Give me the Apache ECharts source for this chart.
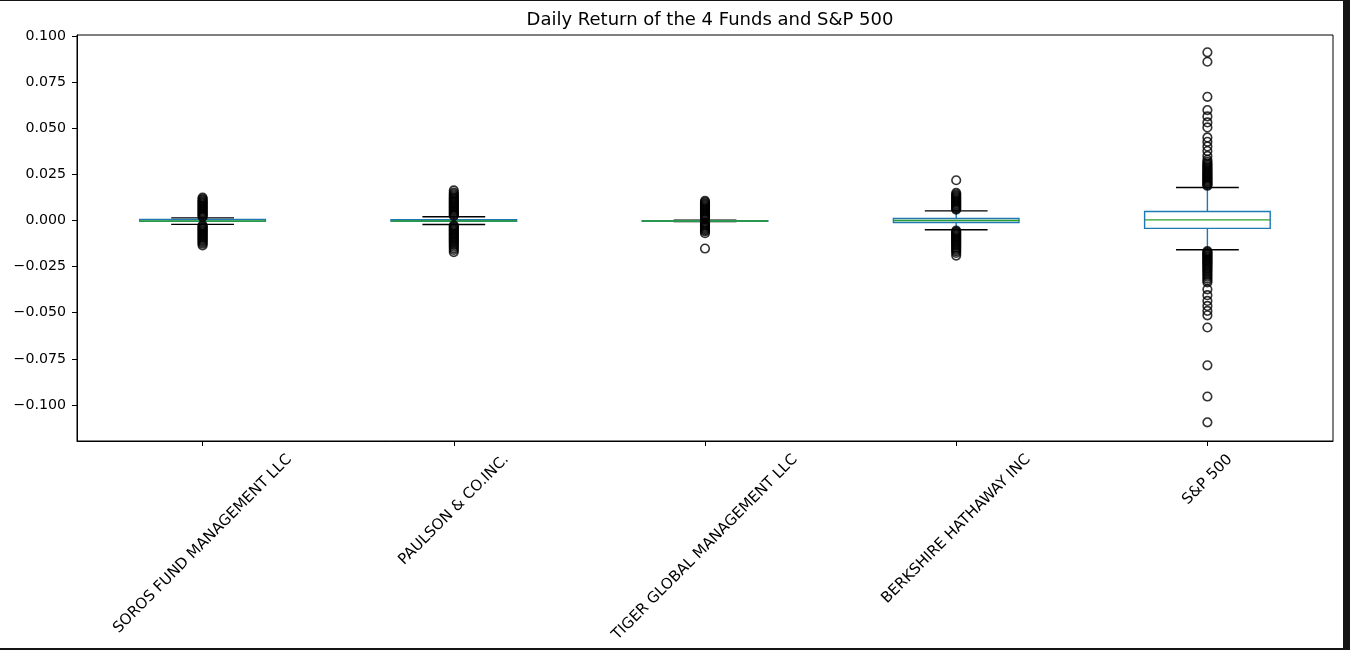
<!DOCTYPE html>
<html>
<head>
<meta charset="utf-8">
<script src="https://cdn.jsdelivr.net/npm/echarts@6/dist/echarts.min.js"></script>
<style>
  html, body { margin: 0; padding: 0; background: #141414; }
  #frame { position: relative; width: 1350px; height: 650px; background: #141414; overflow: hidden; }
  #chart { position: absolute; left: 0; top: 1px; width: 1343px; height: 647px; background: #ffffff; }
</style>
</head>
<body>
<div id="frame"><div id="chart"></div></div>
<script>
const title = 'Daily Return of the 4 Funds and S&P 500';
const categories = ['SOROS FUND MANAGEMENT LLC', 'PAULSON & CO.INC.', 'TIGER GLOBAL MANAGEMENT LLC', 'BERKSHIRE HATHAWAY INC', 'S&P 500'];
const yTicks = [-0.1, -0.075, -0.05, -0.025, 0, 0.025, 0.05, 0.075, 0.1];

const whiskerLow  = [-0.0021, -0.0022, -0.0006, -0.0050, -0.0159];
const q1          = [-0.0004, -0.0004, -0.0004, -0.0011, -0.0043];
const median      = [-0.0003, -0.0003, -0.0003,  0.0000,  0.0003];
const q3          = [ 0.0006,  0.0004, -0.0001,  0.0011,  0.0049];
const whiskerHigh = [ 0.0014,  0.0020,  0.0001,  0.0052,  0.0179];

const sorosFliers = [0.0019, 0.0025, 0.0031, 0.0036, 0.0042, 0.0047, 0.0053, 0.0059, 0.0064, 0.0070, 0.0076, 0.0081, 0.0087, 0.0093, 0.0098, 0.0104, 0.0110, 0.0117, 0.0124,
  -0.0026, -0.0031, -0.0037, -0.0042, -0.0048, -0.0054, -0.0059, -0.0065, -0.0071, -0.0076, -0.0082, -0.0088, -0.0094, -0.0100, -0.0106, -0.0112, -0.0119, -0.0126, -0.0135];
const paulsonFliers = [0.0025, 0.0031, 0.0037, 0.0042, 0.0048, 0.0054, 0.0059, 0.0065, 0.0071, 0.0076, 0.0082, 0.0088, 0.0094, 0.0099, 0.0105, 0.0111, 0.0117, 0.0123, 0.0129, 0.0136, 0.0143, 0.0151, 0.0163,
  -0.0027, -0.0033, -0.0038, -0.0044, -0.0050, -0.0055, -0.0061, -0.0067, -0.0073, -0.0078, -0.0084, -0.0090, -0.0096, -0.0102, -0.0108, -0.0114, -0.0120, -0.0127, -0.0134, -0.0142, -0.0151, -0.0160, -0.0171];
const tigerFliers = [0.0006, 0.0012, 0.0017, 0.0023, 0.0029, 0.0034, 0.0040, 0.0046, 0.0051, 0.0057, 0.0063, 0.0068, 0.0074, 0.0080, 0.0086, 0.0092, 0.0099, 0.0106,
  -0.0011, -0.0017, -0.0022, -0.0028, -0.0034, -0.0040, -0.0046, -0.0052, -0.0059, -0.0069, -0.0152];
const berkshireFliers = [0.0059, 0.0064, 0.0070, 0.0076, 0.0081, 0.0087, 0.0093, 0.0099, 0.0105, 0.0111, 0.0117, 0.0123, 0.0129, 0.0135, 0.0142, 0.0149, 0.0218,
  -0.0055, -0.0061, -0.0066, -0.0072, -0.0078, -0.0084, -0.0090, -0.0096, -0.0102, -0.0108, -0.0114, -0.0120, -0.0126, -0.0132, -0.0138, -0.0145, -0.0152, -0.0159, -0.0167, -0.0176, -0.0190];
const sp500Fliers = [0.0188, 0.0193, 0.0199, 0.0204, 0.0210, 0.0215, 0.0221, 0.0227, 0.0232, 0.0238, 0.0244, 0.0250, 0.0256, 0.0262, 0.0268, 0.0275, 0.0282, 0.0289, 0.0296, 0.0303, 0.0310, 0.0318, 0.0329,
  0.0350, 0.0376, 0.0401, 0.0426, 0.0450, 0.0504, 0.0531, 0.0564, 0.0598, 0.0670, 0.0860, 0.0911,
  -0.0166, -0.0171, -0.0177, -0.0182, -0.0188, -0.0194, -0.0199, -0.0205, -0.0211, -0.0217, -0.0223, -0.0229, -0.0235, -0.0241, -0.0248, -0.0255, -0.0262, -0.0270, -0.0278, -0.0287, -0.0296, -0.0305, -0.0315, -0.0325, -0.0335,
  -0.0373, -0.0405, -0.0436, -0.0463, -0.0490, -0.0514, -0.0580, -0.0785, -0.0954, -0.1094];

const fliersByCategory = [sorosFliers, paulsonFliers, tigerFliers, berkshireFliers, sp500Fliers];

const FONT = '"DejaVu Sans", "Liberation Sans", sans-serif';
const YTICK_FS = 14.2;
const XTICK_FS = 15;

const boxRows = categories.map((c, i) => [i, whiskerLow[i], q1[i], median[i], q3[i], whiskerHigh[i]]);
const flierPoints = [];
fliersByCategory.forEach((arr, i) => arr.forEach(v => flierPoints.push([i, v])));

// Rotated x labels centred under their tick (matplotlib style):
// shift along the text by right padding and across it with a tall line box.
const meas = document.createElement('canvas').getContext('2d');
meas.font = XTICK_FS + 'px ' + FONT;
const xData = categories.map(name => {
  const L = meas.measureText(name).width;
  const h = XTICK_FS * 1.17;
  const D = 10 + (L + h) * Math.SQRT1_2 / 2;
  const S = D * Math.SQRT2;
  return {
    value: name,
    textStyle: {
      align: 'center', verticalAlign: 'top',
      lineHeight: S,
      fontFamily: FONT, fontSize: XTICK_FS, color: '#000000',
      padding: [0, S, 0, 0]
    }
  };
});

function fmt(v) {
  const s = Math.abs(v).toFixed(3);
  return (v < -1e-9 ? '\u2212' : '') + s;
}

function renderBox(params, api) {
  const i = api.value(0);
  const band = api.size([1, 0])[0];
  const bw = band * 0.5, cw = band * 0.25;
  const x = api.coord([i, 0])[0];
  const y = v => api.coord([i, v])[1];
  const yLo = y(api.value(1)), yQ1 = y(api.value(2)), yMed = y(api.value(3)), yQ3 = y(api.value(4)), yHi = y(api.value(5));
  const lw = 1.4;
  const blue = { stroke: '#1f77b4', lineWidth: lw, fill: null };
  const black = { stroke: '#000000', lineWidth: lw, fill: null };
  return {
    type: 'group',
    children: [
      { type: 'line', shape: { x1: x, y1: yQ1, x2: x, y2: yLo }, style: blue },
      { type: 'line', shape: { x1: x, y1: yQ3, x2: x, y2: yHi }, style: blue },
      { type: 'line', shape: { x1: x - cw / 2, y1: yLo, x2: x + cw / 2, y2: yLo }, style: black },
      { type: 'line', shape: { x1: x - cw / 2, y1: yHi, x2: x + cw / 2, y2: yHi }, style: black },
      { type: 'rect', shape: { x: x - bw / 2, y: yQ3, width: bw, height: yQ1 - yQ3 }, style: { stroke: '#1f77b4', lineWidth: lw, fill: 'none' } },
      { type: 'line', shape: { x1: x - bw / 2, y1: yMed, x2: x + bw / 2, y2: yMed }, style: { stroke: '#2ca02c', lineWidth: lw } }
    ]
  };
}

const chart = echarts.init(document.getElementById('chart'), null, { renderer: 'canvas' });
chart.setOption({
  animation: false,
  backgroundColor: '#ffffff',
  textStyle: { fontFamily: FONT },
  title: {
    text: title,
    left: 705,
    textAlign: 'center',
    top: 5,
    textStyle: { fontFamily: FONT, fontSize: 18, fontWeight: 'normal', color: '#000000' }
  },
  grid: {
    left: 77, right: 10, top: 34, bottom: 207,
    show: true, borderColor: '#000000', borderWidth: 1, backgroundColor: 'transparent',
    containLabel: false, outerBoundsMode: 'none'
  },
  xAxis: {
    type: 'category',
    data: xData,
    boundaryGap: true,
    axisLine: { show: true, onZero: false, lineStyle: { color: '#000000', width: 1 } },
    axisTick: { show: true, alignWithLabel: true, length: 5, inside: false, lineStyle: { color: '#000000', width: 1 } },
    axisLabel: {
      show: true, interval: 0, rotate: 45, margin: 0, hideOverlap: false,
      align: 'center', verticalAlign: 'top',
      fontFamily: FONT, fontSize: XTICK_FS, color: '#000000'
    },
    splitLine: { show: false }
  },
  yAxis: {
    type: 'value',
    min: -0.1195,
    max: 0.1005,
    axisLine: { show: true, onZero: false, lineStyle: { color: '#000000', width: 1 } },
    axisTick: { show: true, length: 5, inside: false, customValues: yTicks, lineStyle: { color: '#000000', width: 1 } },
    axisLabel: {
      show: true, customValues: yTicks, margin: 11,
      fontFamily: FONT, fontSize: YTICK_FS, color: '#000000',
      formatter: fmt
    },
    splitLine: { show: false }
  },
  series: [
    {
      type: 'custom',
      name: 'box',
      renderItem: renderBox,
      data: boxRows,
      encode: { x: 0, y: [1, 2, 3, 4, 5] },
      silent: true,
      z: 2
    },
    {
      type: 'scatter',
      name: 'fliers',
      data: flierPoints,
      symbol: 'circle',
      symbolSize: 8.6,
      itemStyle: { color: 'rgba(0,0,0,0)', borderColor: '#000000', borderWidth: 1.6 },
      silent: true,
      z: 3
    }
  ]
});
</script>
</body>
</html>
